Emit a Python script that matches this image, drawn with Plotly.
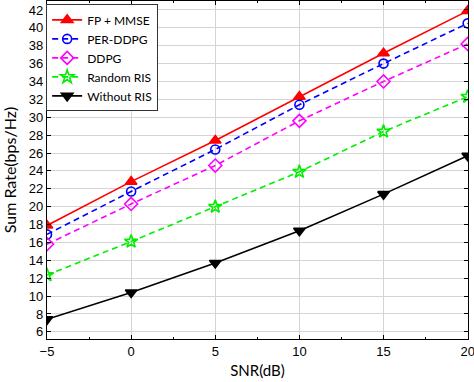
import plotly.graph_objects as go

snr = [-5, 0, 5, 10, 15, 20]
fp_mmse = [17.9, 22.8, 27.4, 32.3, 37.15, 41.9]
per_ddpg = [16.9, 21.7, 26.4, 31.4, 36.0, 40.5]
ddpg = [15.8, 20.3, 24.6, 29.6, 34.0, 38.2]
random_ris = [12.35, 16.1, 20.0, 23.9, 28.4, 32.3]
without_ris = [7.4, 10.4, 13.7, 17.3, 21.4, 25.7]

series = [
    ("FP + MMSE", fp_mmse, "#ff0000", "solid", "triangle-up", 10),
    ("PER-DDPG", per_ddpg, "#0000ff", "6px,4px", "circle-open", 9),
    ("DDPG", ddpg, "#ff00ff", "6px,4px", "diamond-open", 10),
    ("Random RIS", random_ris, "#00ee00", "6px,4px", "star-open", 10),
    ("Without RIS", without_ris, "#000000", "solid", "triangle-down", 10),
]

fig = go.Figure()
for name, vals, color, dash, sym, size in series:
    fig.add_trace(go.Scatter(
        x=snr, y=vals, name=name, mode="lines+markers",
        line=dict(color=color, width=1.6, dash=dash),
        marker=dict(symbol=sym, size=size, color=color,
                    line=dict(color=color, width=1.6)),
    ))

axis_common = dict(
    showline=True, linecolor="black", linewidth=1.2, mirror="ticks",
    ticks="inside", ticklen=4, tickcolor="black",
    showgrid=True, gridcolor="#d4d4d4", gridwidth=1, zeroline=False,
    tickfont=dict(family="Liberation Sans, Arial", size=13, color="black"),
)

fig.update_xaxes(
    range=[-5, 20.02], tickvals=[-5, 0, 5, 10, 15, 20],
    ticktext=["\u22125", "0", "5", "10", "15", "20"],
    ticklabeloverflow="allow",
    minor=dict(ticks="inside", ticklen=2, dtick=2.5, tick0=-5, tickcolor="black", showgrid=False),
    title=dict(text="SNR(dB)", font=dict(family="Lato, Open Sans", size=15, color="black"), standoff=7),
    **axis_common,
)
fig.update_yaxes(
    range=[5.2, 43.0], tickvals=list(range(6, 43, 2)),
    title=dict(text="Sum Rate(bps/Hz)", font=dict(family="Lato, Open Sans", size=16, color="black"), standoff=8),
    **axis_common,
)

fig.update_layout(
    width=474, height=382,
    margin=dict(l=47, r=6, t=1, b=43, autoexpand=False),
    plot_bgcolor="white", paper_bgcolor="white",
    legend=dict(
        x=-0.002, y=0.99, xanchor="left", yanchor="top",
        bgcolor="white", bordercolor="#333333", borderwidth=1,
        font=dict(family="Lato, Open Sans", size=12, color="black"),
        tracegroupgap=0, itemwidth=30,
    ),
    showlegend=True,
)

fig.write_html(
    "out.html",
    config={"displayModeBar": False},
    post_script="document.body.style.margin='0';document.body.style.overflow='hidden';",
)
